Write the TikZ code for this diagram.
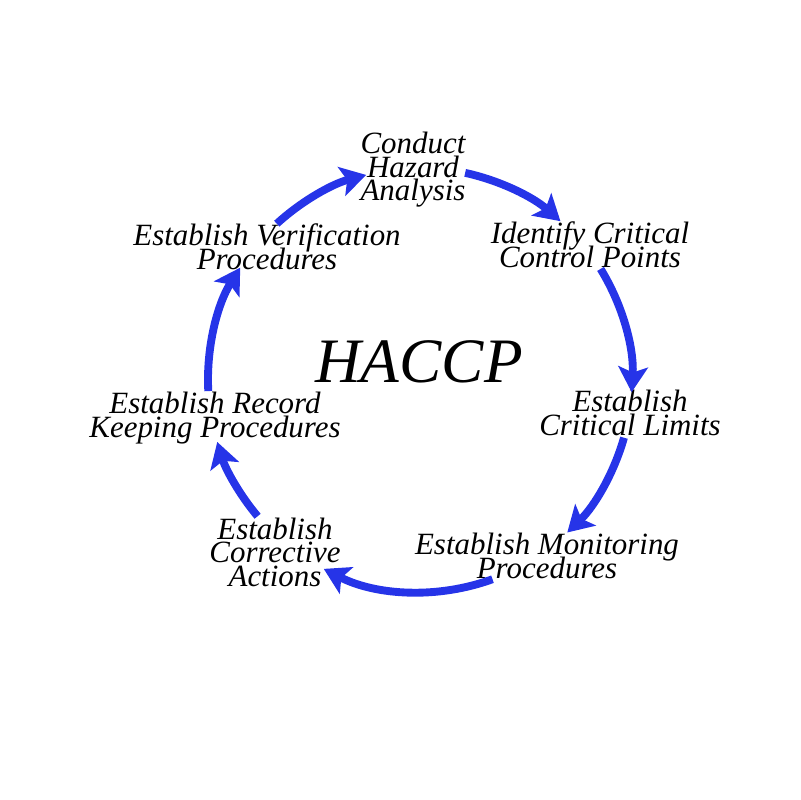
\documentclass[tikz,border=0pt]{standalone}
\usepackage{fontspec}
\setmainfont{Liberation Serif}
\usetikzlibrary{arrows.meta}
\definecolor{arcblue}{RGB}{38,52,232}
\newcommand\stepfont{\itshape\fontsize{22}{16.7}\selectfont\lineskiplimit=-40pt\relax}
\tikzstyle{cyclearrow} = [line width=5.6pt, draw=arcblue, -{Stealth[length=18pt, width=21pt, inset=4pt, fill=arcblue]}]
\tikzstyle{steptext} = [align=center, font=\stepfont, inner sep=0pt]
\tikzstyle{titletext} = [font=\itshape\fontsize{45}{50}\selectfont, inner sep=0pt]

\begin{document}
\begin{tikzpicture}[x=0.025cm, y=0.025cm]
\useasboundingbox (-420,-420) rectangle (380,380);

\node (haccp) [titletext] at (-1,18) {HACCP};

\node (hazard) [steptext] at (-7,210) {Conduct\\Hazard\\Analysis};
\node (ccp) [steptext] at (170,135) {Identify Critical\\Control Points};
\node (limits) [steptext] at (210,-33) {Establish\\Critical Limits};
\node (monitor) [steptext] at (127,-176) {Establish Monitoring\\Procedures};
\node (corrective) [steptext] at (-145,-172) {Establish\\Corrective\\Actions};
\node (record) [steptext] at (-205,-38) {Establish Record\\Keeping Procedures};
\node (verify) [steptext] at (-153,133) {Establish Verification\\Procedures};

% arcs round the cycle
\foreach \a/\b [count=\i] in {132.5/104.7, 77.7/48.5, 31.6/-3.3, -15.8/-46, -70/-117, -140/-163, -177/-212}
{
  \coordinate (arcstart\i) at (\a:212);
  \draw [cyclearrow] (arcstart\i) arc[start angle=\a, end angle=\b, radius=212];
}

\end{tikzpicture}
\end{document}
